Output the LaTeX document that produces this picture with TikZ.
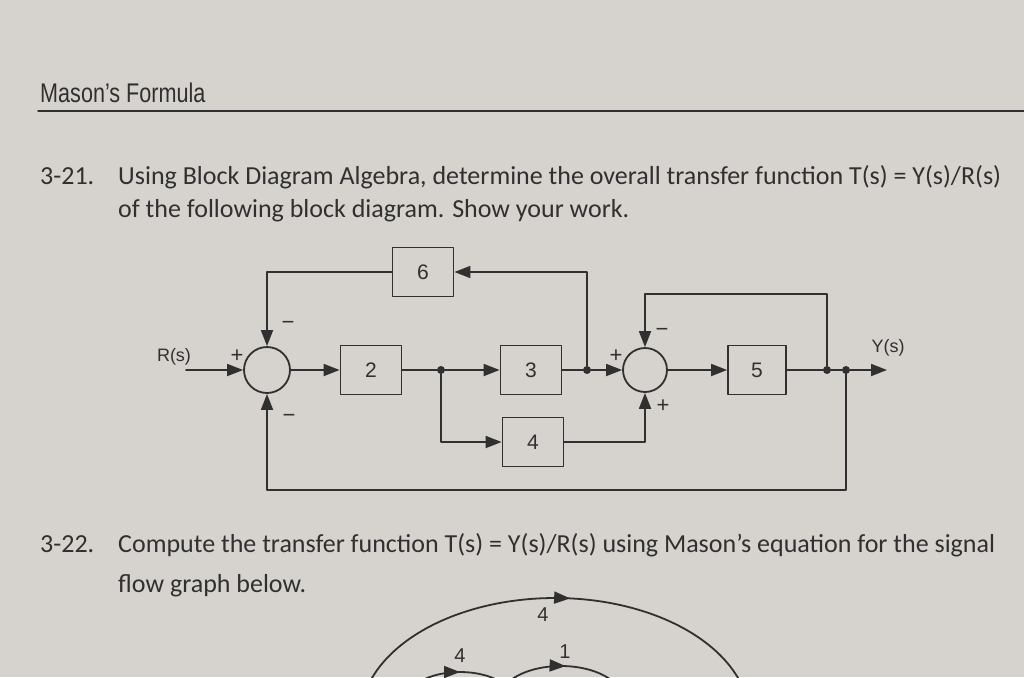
\documentclass[tikz,border=0pt]{standalone}
\usepackage{fontspec}
\setmainfont{Carlito}
\newfontfamily\diagfont{Liberation Sans}
\newfontfamily\headfont{Liberation Sans}[FakeStretch=0.8]
\usetikzlibrary{arrows.meta,decorations.markings}
\definecolor{paper}{RGB}{214,211,206}
\definecolor{ink}{RGB}{48,48,48}

\begin{document}
\begin{tikzpicture}[x=1pt,y=-1pt,line cap=round,line join=round,>={Triangle[length=16pt,width=12pt]},
  wire/.style={draw=ink,line width=1.8pt},
  blk/.style={draw=ink,line width=1.8pt,minimum width=61pt,minimum height=49pt,inner sep=0pt,text=ink,font=\diagfont\fontsize{21}{21}\selectfont},
  summer/.style={draw=ink,line width=1.8pt,circle,minimum size=46pt,inner sep=0pt},
  junc/.style={circle,fill=ink,minimum size=8pt,inner sep=0pt},
  lbl/.style={inner sep=0pt,text=ink,font=\diagfont\fontsize{18}{18}\selectfont},
  sgn/.style={inner sep=0pt,text=ink,font=\diagfont\fontsize{22}{22}\selectfont},
  txt/.style={anchor=base west,inner sep=0pt,text=ink,font=\fontsize{26}{30}\selectfont},
  arcmark/.style={postaction={decorate},decoration={markings,mark=at position #1 with {\arrow{>}}}}]
\useasboundingbox (0,0) rectangle (1024,677);
\fill[paper] (0,0) rectangle (1024,677);
\clip (0,0) rectangle (1024,677);
% heading
\node[anchor=base west,inner sep=0pt,text=ink,font=\headfont\fontsize{27}{27}\selectfont] (head) at (40,102) {Mason’s Formula};
\draw[wire,line width=1.4pt] (38,111) -- (1024,111);
% problem text
\node[txt] (numA) at (40,184) {3-21.};
\node[txt] (qAa) at (118,184) {Using Block Diagram Algebra, determine the overall transfer function T(s) = Y(s)/R(s)};
\node[txt] (qAb) at (118,217) {of the following block diagram. Show your work.};
\node[txt] (numB) at (40,552) {3-22.};
\node[txt] (qBa) at (118,552) {Compute the transfer function T(s) = Y(s)/R(s) using Mason’s equation for the signal};
\node[txt] (qBb) at (118,592) {flow graph below.};
% block diagram
\node[summer] (sA) at (267,370) {};
\node[blk] (gTwo) at (371,370) {2};
\node[junc] (dA) at (441,370) {};
\node[blk] (gThree) at (531,370) {3};
\node[blk] (gFour) at (533,442) {4};
\node[junc] (dB) at (587,370) {};
\node[blk] (gSix) at (423,272) {6};
\node[summer,minimum size=44pt] (sB) at (645,370) {};
\node[blk,minimum width=58pt] (gFive) at (757,370) {5};
\node[junc] (dC) at (827,370) {};
\node[junc] (dD) at (846,370) {};
\coordinate (rin) at (186,370);
\coordinate (yout) at (887,370);
\coordinate (fbB) at (827,294);
\coordinate (fbA) at (846,490);
\draw[wire,->] (rin) -- (sA);
\draw[wire,->] (sA) -- (gTwo);
\draw[wire] (gTwo) -- (dA);
\draw[wire,->] (dA) -- (gThree);
\draw[wire,->] (dA) |- (gFour);
\draw[wire] (gThree) -- (dB);
\draw[wire,->] (dB) -- (sB);
\draw[wire,->] (dB) |- (gSix);
\draw[wire,->] (gSix) -| (sA);
\draw[wire,->] (gFour) -| (sB);
\draw[wire,->] (sB) -- (gFive);
\draw[wire] (gFive) -- (dC);
\draw[wire] (dC) -- (dD);
\draw[wire,->] (dD) -- (yout);
\draw[wire,->] (dC) -- (fbB) -| (sB);
\draw[wire,->] (dD) -- (fbA) -| (sA);
\node[lbl] (rLab) at (174,357) {R(s)};
\node[lbl] (yLab) at (888,348) {Y(s)};
\node[sgn] (pA) at (237,356) {+};
\node[sgn] (mAa) at (288,325) {−};
\node[sgn] (mAb) at (289,418) {−};
\node[sgn] (pBa) at (616,356) {+};
\node[sgn] (mB) at (662,332) {−};
\node[sgn] (pBb) at (663,406) {+};
% signal flow graph (cut off at the bottom)
\draw[wire,arcmark=0.53] plot[domain=180:0,samples=60,smooth] ({555+195*cos(\x)},{720-122*sin(\x)});
\draw[wire,arcmark=0.5] plot[domain=180:0,samples=40,smooth] ({460+55*cos(\x)},{702-30*sin(\x)});
\draw[wire,arcmark=0.53] plot[domain=180:0,samples=40,smooth] ({561+62*cos(\x)},{700-34*sin(\x)});
\node[lbl,font=\diagfont\fontsize{20}{20}\selectfont] (fgA) at (543,615) {4};
\node[lbl,font=\diagfont\fontsize{20}{20}\selectfont] (fgB) at (460,656) {4};
\node[lbl,font=\diagfont\fontsize{20}{20}\selectfont] (fgC) at (565,652) {1};
\end{tikzpicture}
\end{document}
